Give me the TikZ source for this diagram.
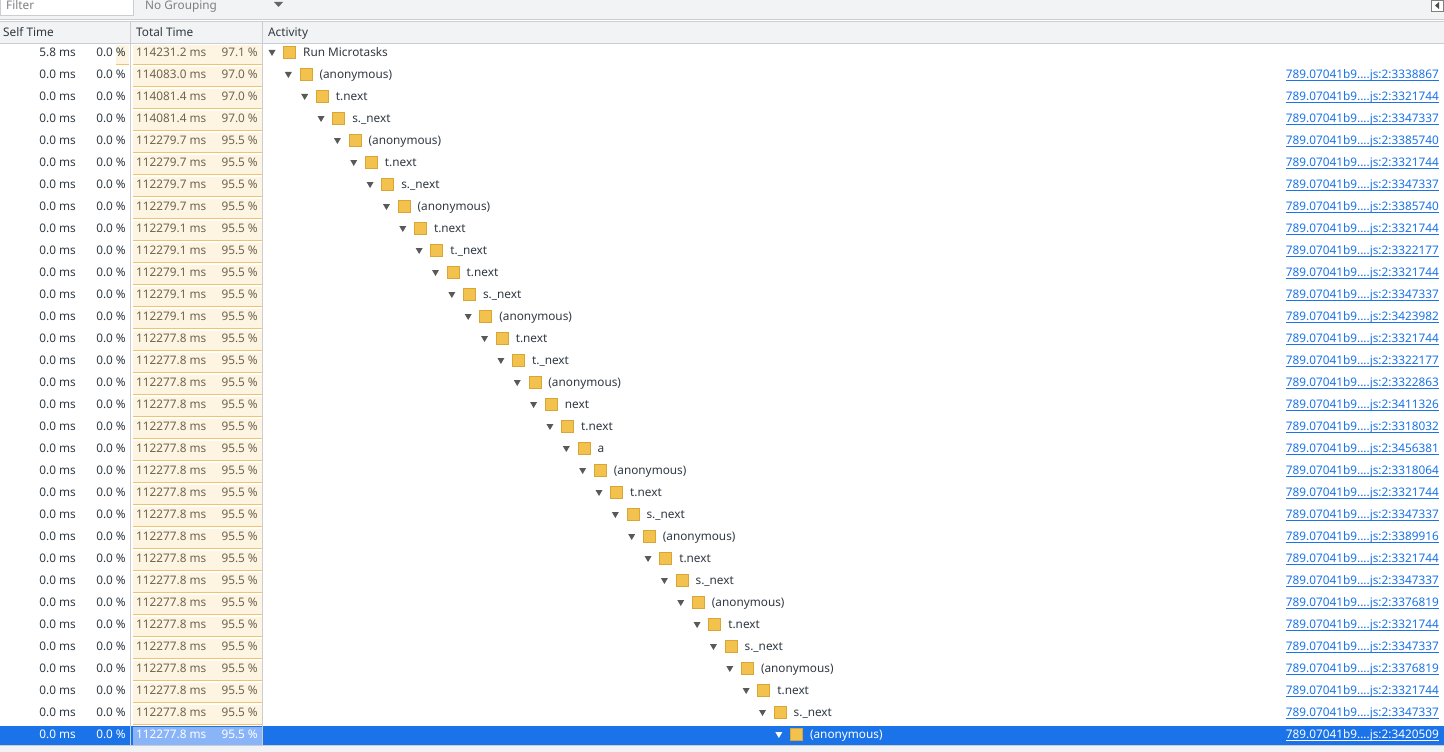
\documentclass[tikz,border=0pt]{standalone}
\usepackage{fontspec}
\setmainfont{Noto Sans}
\definecolor{bar}{HTML}{F1F3F4}
\definecolor{gridl}{HTML}{CACDD1}
\definecolor{tan}{HTML}{FDF5E1}
\definecolor{tanl}{HTML}{F0C36D}
\definecolor{txt}{HTML}{303942}
\definecolor{ttxt}{HTML}{6E6551}
\definecolor{sel}{HTML}{1A73E8}
\definecolor{sel2}{HTML}{8AB4F8}
\definecolor{link}{HTML}{1A73E8}
\definecolor{sq}{HTML}{F2C14E}
\definecolor{sqb}{HTML}{D9A533}
\definecolor{tri}{HTML}{595959}
\begin{document}
\begin{tikzpicture}[x=1pt,y=-1pt,font=\fontsize{11.8}{14}\selectfont,
  cell/.style={inner sep=0pt,anchor=base east,text=txt},
  lcell/.style={inner sep=0pt,anchor=base west,text=txt}]
\useasboundingbox (0,0) rectangle (1444,752);
\fill[white] (0,0) rectangle (1444,752);
% toolbar
\fill[bar] (0,0) rectangle (1444,19);
\draw[gridl] (0,19.5) -- (1444,19.5);
\fill[white,draw=gridl] (0.5,-1) rectangle (133,15.5);
\node[lcell,text=gray] at (6,10) {Filter};
\node[lcell,text=gray] at (145,10) {No Grouping};
\fill[gray!80!black] (274,2) -- (283,2) -- (278.5,7) -- cycle;
\fill[white,draw=gray] (1431.5,0) rectangle (1443.5,11);
\fill[black!70] (1439,2) -- (1439,9) -- (1435,5.5) -- cycle;
% header
\fill[bar] (0,22) rectangle (1444,43);
\draw[gridl] (0,21.5) -- (1444,21.5);
\draw[gridl] (0,43.5) -- (1444,43.5);
\node[lcell] at (3,37) {Self Time};
\node[lcell] at (136,37) {Total Time};
\node[lcell] at (268,37) {Activity};
% rows
\foreach \n/\t/\p/\u [count=\i from 0] in {
Run Microtasks/114231.2/97.1/,
(anonymous)/114083.0/97.0/3338867,
t.next/114081.4/97.0/3321744,
s.\_next/114081.4/97.0/3347337,
(anonymous)/112279.7/95.5/3385740,
t.next/112279.7/95.5/3321744,
s.\_next/112279.7/95.5/3347337,
(anonymous)/112279.7/95.5/3385740,
t.next/112279.1/95.5/3321744,
t.\_next/112279.1/95.5/3322177,
t.next/112279.1/95.5/3321744,
s.\_next/112279.1/95.5/3347337,
(anonymous)/112279.1/95.5/3423982,
t.next/112277.8/95.5/3321744,
t.\_next/112277.8/95.5/3322177,
(anonymous)/112277.8/95.5/3322863,
next/112277.8/95.5/3411326,
t.next/112277.8/95.5/3318032,
a/112277.8/95.5/3456381,
(anonymous)/112277.8/95.5/3318064,
t.next/112277.8/95.5/3321744,
s.\_next/112277.8/95.5/3347337,
(anonymous)/112277.8/95.5/3389916,
t.next/112277.8/95.5/3321744,
s.\_next/112277.8/95.5/3347337,
(anonymous)/112277.8/95.5/3376819,
t.next/112277.8/95.5/3321744,
s.\_next/112277.8/95.5/3347337,
(anonymous)/112277.8/95.5/3376819,
t.next/112277.8/95.5/3321744,
s.\_next/112277.8/95.5/3347337,
(anonymous)/112277.8/95.5/3420509}{
  \pgfmathsetmacro{\yt}{44+22*\i}
  \pgfmathsetmacro{\yb}{\yt+22}
  \pgfmathsetmacro{\yl}{\yt+12.5}
  \pgfmathsetmacro{\xa}{272+16.35*\i}
  \ifnum\i=31
    \fill[sel] (0,\yt) rectangle (1444,\yb);
    \fill[sel2] (133,\yt+1) rectangle (262,\yb-2);
    \draw[white] (133,\yb-1.5) -- (262,\yb-1.5);
    \def\ct{white}\def\tt{white}\def\lc{white}\def\trc{white}
  \else
    \fill[tan] (133,\yt+1) rectangle (262,\yb-2);
    \draw[tanl] (133,\yb-1.5) -- (262,\yb-1.5);
    \def\ct{txt}\def\tt{ttxt}\def\lc{link}\def\trc{tri}
  \fi
  \ifnum\i=0
    \fill[tan] (116,\yt+1) rectangle (129,\yb-2);
    \draw[tanl] (116,\yb-1.5) -- (129,\yb-1.5);
    \def\sv{5.8}
  \else
    \def\sv{0.0}
  \fi
  \node[cell,text=\ct] at (76,\yl) {\sv{} ms};
  \node[cell,text=\ct] at (126,\yl) {0.0 \%};
  \node[lcell,text=\tt] at (136,\yl) {\t{} ms};
  \node[cell,text=\tt] at (258,\yl) {\p{} \%};
  \fill[\trc] (\xa-3.5,\yt+6) -- (\xa+3.5,\yt+6) -- (\xa,\yt+12) -- cycle;
  \fill[sq,draw=sqb,line width=0.5pt] (\xa+11.5,\yt+2.5) rectangle (\xa+23.5,\yt+14.5);
  \node[lcell,text=\ct] at (\xa+31,\yl) {\n};
  \ifnum\i>0
    \node[cell,text=\lc] (u\i) at (1439,\yl) {789.07041b9....js:2:\u};
    \draw[\lc,line width=0.6pt] ([yshift=-2]u\i.base west) -- ([yshift=-2]u\i.base east);
  \fi
}
\draw[gridl] (130.5,22) -- (130.5,745);
\draw[gridl] (262.5,22) -- (262.5,745);
\fill[bar] (0,745) rectangle (1444,752);
\draw[gridl] (0,745.5) -- (1444,745.5);
\end{tikzpicture}
\end{document}
